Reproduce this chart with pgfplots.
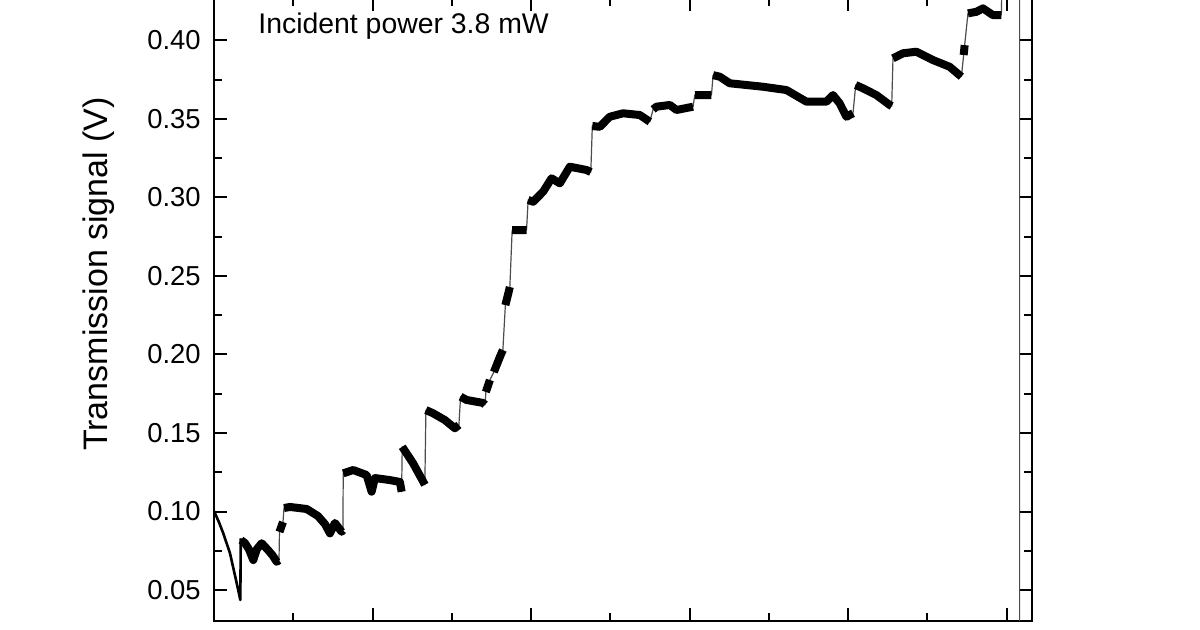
\documentclass[border=0pt]{standalone}
\usepackage{pgfplots}
\pgfplotsset{compat=1.18}
\usepackage{fontspec}
\setmainfont{Liberation Sans}
\pgfplotstableread{
x y
0.1702 0.0818
0.1955 0.0799
0.2200 0.0760
0.2478 0.0691
0.2700 0.0760
0.3008 0.0798
0.3405 0.0755
0.3700 0.0720
0.3953 0.0680
0.4100 0.0690
0.4200 nan
0.4130 0.0870
0.4351 0.0933
0.4400 nan
0.4414 0.1022
0.4792 0.1029
0.5845 0.1016
0.6557 0.0971
0.7000 0.0920
0.7314 0.0861
0.7629 0.0927
0.8052 0.0871
0.8130 0.0880
0.8140 nan
0.8153 0.1243
0.8783 0.1264
0.9628 0.1232
0.9943 0.1126
1.0151 0.1213
1.1097 0.1200
1.1728 0.1188
1.1835 0.1126
1.1850 nan
1.1873 0.1412
1.2547 0.1309
1.3197 0.1190
1.3300 0.1170
1.3330 nan
1.3367 0.1646
1.3827 0.1625
1.4565 0.1582
1.5195 0.1530
1.5448 0.1551
1.5500 nan
1.5555 0.1731
1.5933 0.1710
1.6980 0.1691
1.7100 0.1680
1.7120 nan
1.7150 0.1761
1.7402 0.1837
1.7500 nan
1.7654 0.1888
1.8033 0.1984
1.8222 0.2028
1.8300 nan
1.8380 0.2314
1.8663 0.2429
1.8700 nan
1.8808 0.2792
1.9716 0.2792
1.9750 nan
1.9817 0.2983
2.0132 0.2972
2.0763 0.3036
2.1293 0.3121
2.1816 0.3089
2.2446 0.3195
2.3499 0.3174
2.3770 0.3161
2.3800 nan
2.3865 0.3454
2.4338 0.3449
2.4968 0.3513
2.5807 0.3535
2.6860 0.3524
2.7491 0.3481
2.7600 nan
2.7700 0.3560
2.7913 0.3577
2.8752 0.3588
2.9174 0.3556
3.0221 0.3577
3.0250 nan
3.0328 0.3651
3.1381 0.3651
3.1420 nan
3.1482 0.3778
3.1904 0.3768
3.2535 0.3726
3.3588 0.3715
3.4634 0.3704
3.6110 0.3683
3.7371 0.3609
3.8633 0.3609
3.9048 0.3651
3.9470 0.3598
3.9893 0.3513
4.0309 0.3535
4.0400 nan
4.0479 0.3715
4.0940 0.3694
4.1784 0.3651
4.2623 0.3588
4.2749 0.3581
4.2800 nan
4.2831 0.3885
4.3462 0.3917
4.4306 0.3927
4.5353 0.3874
4.6406 0.3831
4.7144 0.3768
4.7200 nan
4.7289 0.3906
4.7352 0.3969
4.7450 nan
4.7560 0.4171
4.8090 0.4181
4.8506 0.4203
4.9136 0.4160
4.9666 0.4160
}\bandtable
\pgfplotstableread{
x y
0 0.1003
0.0300 0.0935
0.0586 0.0861
0.1009 0.0734
0.1431 0.0545
0.1660 0.0437
0.1690 0.0829
}\starttable
\pgfplotstableread{
x y
4.9666 0.4160
4.9750 0.4600
5.0820 0.4600
5.0820 0.0000
}\endtable
\begin{document}
\begin{tikzpicture}
\useasboundingbox (0,0) rectangle (600pt,315pt);
\clip (0,0) rectangle (600pt,315pt);
\begin{axis}[
  at={(107pt,4.5pt)}, anchor=south west,
  scale only axis, width=409pt, height=311.5pt,
  xmin=0, xmax=5.16, ymin=0.0303, ymax=0.4269,
  xtick={0,1,2,3,4,5}, xticklabels={},
  ytick={0.05,0.1,0.15,0.2,0.25,0.3,0.35,0.4},
  yticklabel={\pgfmathprintnumber[fixed,fixed zerofill,precision=2,assume math mode=true]{\tick}},
  yticklabel style={anchor=east, inner sep=0pt, xshift=-6.5pt, font=\fontsize{13.7}{16}\selectfont},
  minor x tick num=1, minor y tick num=1,
  tick align=inside,
  major tick length=6.5pt, minor tick length=3.8pt,
  axis line style={line width=1.2pt},
  every tick/.style={black, line width=1pt},
  unbounded coords=discard,
  clip=true,
]
% thin trace through every point (nan rows skipped, so jumps are joined)
\addplot[black!70, line width=0.6pt, line join=round] table[x=x, y=y] {\starttable};
\addplot[black!70, line width=0.6pt, line join=round] table[x=x, y=y] {\bandtable};
\addplot[black!70, line width=0.6pt, line join=round] table[x=x, y=y] {\endtable};
% initial descent
\addplot[black, line width=1.3pt, line join=round] table[x=x, y=y] {\starttable};
\end{axis}
\begin{axis}[
  at={(107pt,4.5pt)}, anchor=south west,
  scale only axis, width=409pt, height=311.5pt,
  xmin=0, xmax=5.16, ymin=0.0303, ymax=0.4269,
  hide axis, unbounded coords=jump, clip=true,
]
% noisy plateaus
\addplot[black, line width=4pt, line join=round, line cap=butt] table[x=x, y=y] {\bandtable};
\end{axis}
\node[anchor=base west, inner sep=0pt, font=\fontsize{14.2}{17}\selectfont] at (129pt,298.4pt) {Incident power 3.8 mW};
\node[rotate=90, anchor=center, inner sep=0pt, font=\fontsize{17}{20}\selectfont] at (49.5pt,178pt) {Transmission signal (V)};
\end{tikzpicture}
\end{document}
